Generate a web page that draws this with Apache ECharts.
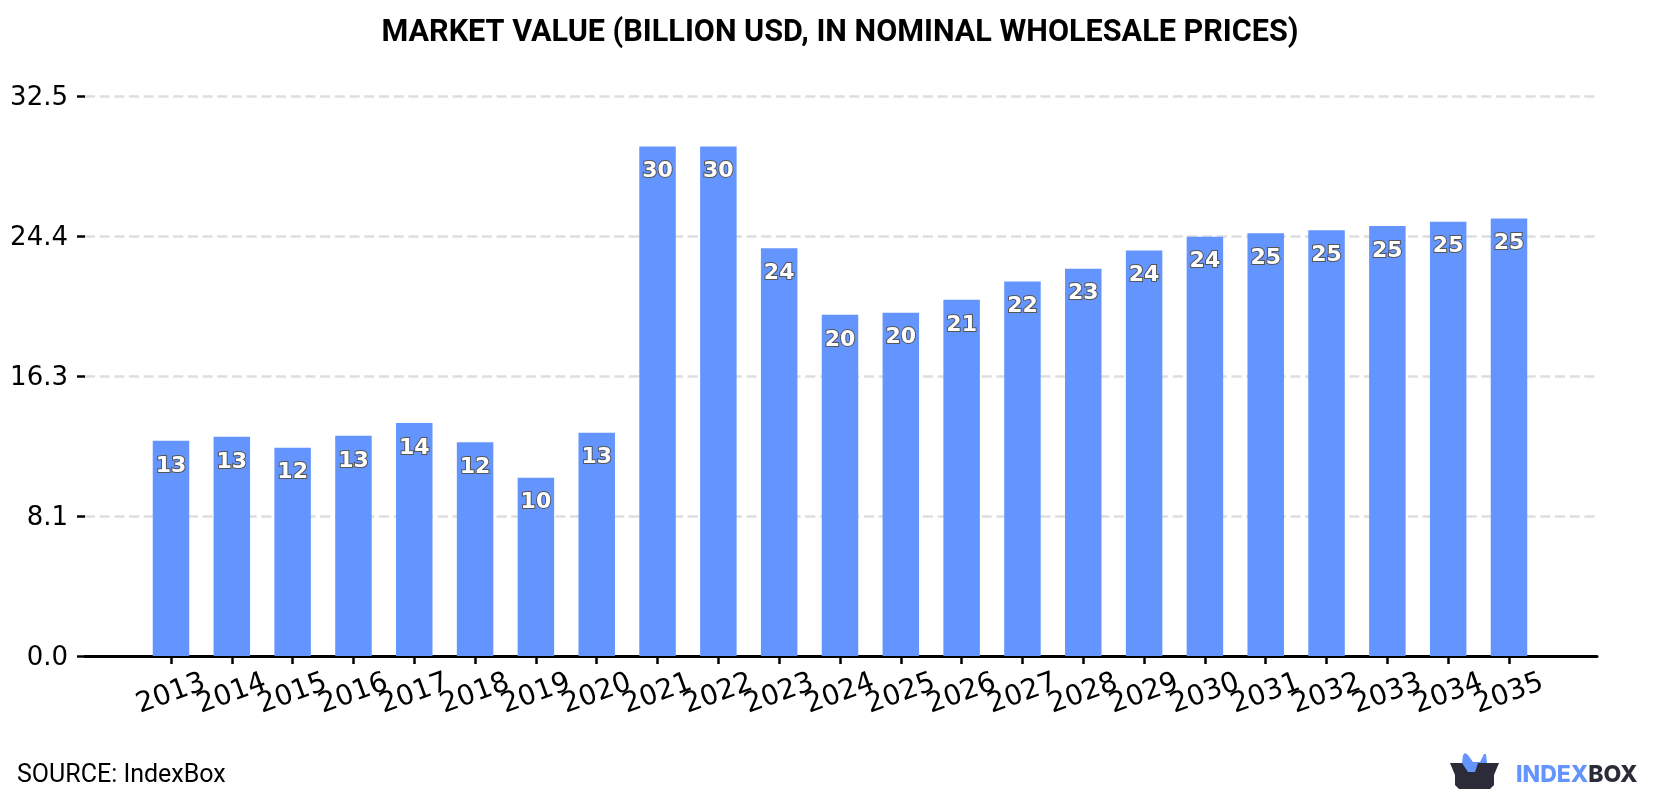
<!DOCTYPE html>
<html>
<head>
<meta charset="utf-8">
<style>html,body{margin:0;padding:0;background:#fff}#chart{width:1680px;height:800px}</style>
<script src="https://cdn.jsdelivr.net/npm/echarts@6/dist/echarts.min.js"></script>
</head>
<body>
<div id="chart"></div>
<script>
// Market value by year, billion USD
const years = [2013,2014,2015,2016,2017,2018,2019,2020,2021,2022,2023,2024,2025,2026,2027,2028,2029,2030,2031,2032,2033,2034,2035];
const values = [12.5,12.73,12.1,12.79,13.53,12.41,10.36,12.97,29.59,29.59,23.68,19.82,19.94,20.69,21.75,22.5,23.55,24.36,24.55,24.73,24.98,25.23,25.42];
const yTicks = [0,8.125,16.25,24.375,32.5];
// Blank end labels keep the axis from dropping a neighbour of the first and last year
const labelPositions = [2012, ...years, 2036];

const chart = echarts.init(document.getElementById('chart'), null, {renderer:'canvas'});
const DARK = '#2b2c38', BLUE = '#6495ff';

chart.setOption({
  animation:false,
  backgroundColor:'#fff',
  title:{
    text:'MARKET VALUE (BILLION USD, IN NOMINAL WHOLESALE PRICES)',
    left:'center', top:13,
    textStyle:{fontFamily:'Roboto',fontWeight:'bold',fontSize:30.6,color:'#000'}
  },
  grid:{left:85,right:83,top:96.5,bottom:144},
  xAxis:{
    type:'value',
    min:2011.586, max:2036.447,
    axisLine:{show:true,lineStyle:{color:'#000',width:3}},
    axisTick:{show:true,customValues:years,length:8,lineStyle:{color:'#000',width:2.5}},
    axisLabel:{
      customValues:labelPositions,
      rotate:20, align:'center', verticalAlign:'middle', margin:38,
      fontFamily:'DejaVu Sans',fontSize:28,color:'#000',
      formatter:v=>years.includes(v)?String(v):''
    },
    splitLine:{show:false}
  },
  yAxis:{
    type:'value',
    min:0,max:32.5,
    axisLine:{show:false},
    axisTick:{show:true,customValues:yTicks,length:8,lineStyle:{color:'#000',width:2.5}},
    axisLabel:{
      customValues:yTicks,
      showMinLabel:true, showMaxLabel:true,
      margin:17, verticalAlign:'top', lineHeight:4,
      fontFamily:'DejaVu Sans',fontSize:26,color:'#000',
      formatter:v=>v.toFixed(1)
    },
    splitLine:{show:true,lineStyle:{color:'#dedede',width:2.5,type:[10,4.7]}}
  },
  series:[{
    type:'bar',
    data:years.map((y,i)=>[y,values[i]]),
    barWidth:36.5,
    itemStyle:{color:BLUE},
    label:{
      show:true,position:'insideTop',distance:14,
      fontFamily:'DejaVu Sans',fontWeight:'bold',fontSize:22,color:'#fff',
      textBorderColor:'#555',textBorderWidth:2,
      formatter:p=>String(Math.round(p.value[1]))
    }
  }],
  graphic:[
    {type:'text',left:17,top:763,style:{text:'SOURCE: IndexBox',fontFamily:'Roboto',fontSize:25,fill:'#000'}},
    // Box logo
    {type:'polygon',shape:{points:[[1450,763],[1499,763],[1494,775],[1494,785],[1490,789],[1459,789],[1455,785],[1455,775]]},style:{fill:DARK}},
    {type:'polygon',shape:{points:[[1462,763],[1463,755],[1465,753],[1468,755],[1473,762],[1480,762],[1484,754],[1486,754],[1487,763],[1478,763],[1475,772],[1468,772]]},style:{fill:BLUE}},
    {type:'text',left:1516,top:764,style:{
      rich:{a:{fill:BLUE,fontFamily:'Inter',fontWeight:800,fontSize:23},b:{fill:DARK,fontFamily:'Inter',fontWeight:800,fontSize:23}},
      text:'{a|INDEX}{b|BOX}'
    }}
  ]
});
</script>
</body>
</html>
